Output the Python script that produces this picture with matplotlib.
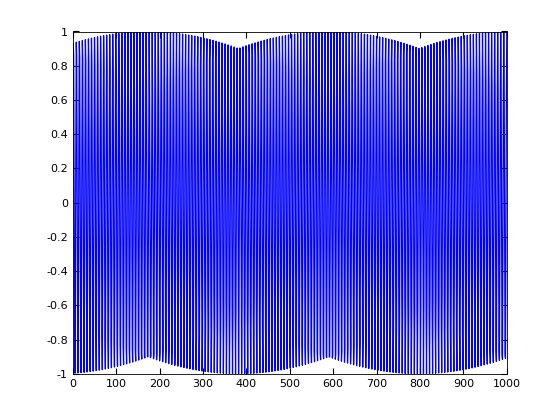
import numpy as np
import matplotlib
matplotlib.use("Agg")
import matplotlib.pyplot as plt

# signal definition (sampled sinusoid, 1000 samples)
n_samples = 1000
freq = 0.1432      # cycles per sample
phase = 0.3
x_ticks = [0, 100, 200, 300, 400, 500, 600, 700, 800, 900, 1000]
y_ticks = [-1, -0.8, -0.6, -0.4, -0.2, 0, 0.2, 0.4, 0.6, 0.8, 1]
y_labels = ["-1", "-0.8", "-0.6", "-0.4", "-0.2", "0", "0.2", "0.4", "0.6", "0.8", "1"]

n = np.arange(1, n_samples + 1)
y = np.sin(2 * np.pi * freq * n + phase)

fig = plt.figure(figsize=(5.6, 4.2), dpi=100)
ax = fig.add_axes([0.13, 0.11, 0.775, 0.815])
ax.plot(n, y, color=(0, 0, 1), linewidth=0.9)
ax.set_xlim(0, 1000)
ax.set_ylim(-1, 1)
ax.set_xticks(x_ticks)
ax.set_yticks(y_ticks)
ax.set_yticklabels(y_labels)
ax.tick_params(direction="in", labelsize=8, length=4, top=True, right=True)
for s in ax.spines.values():
    s.set_linewidth(0.6)
fig.savefig("out.png", dpi=100)
